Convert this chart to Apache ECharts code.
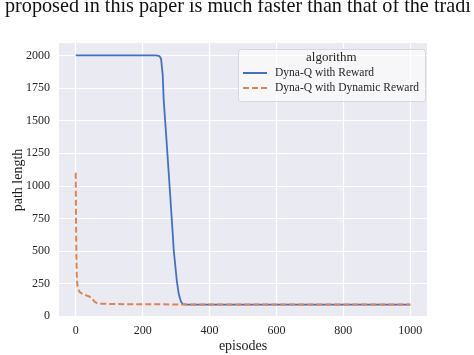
<!DOCTYPE html>
<html>
<head>
<meta charset="utf-8">
<script src="https://cdn.jsdelivr.net/npm/echarts@6/dist/echarts.min.js"></script>
<style>html,body{margin:0;padding:0;background:#fff;}#c{width:474px;height:355px;}</style>
</head>
<body>
<div id="c"></div>
<script>
// Data
const seriesNames = ['Dyna-Q with Reward', 'Dyna-Q with Dynamic Reward'];
const rewardEpisodes = [0, 100, 200, 240, 250, 255, 260, 263, 270, 280, 290, 293, 302, 308, 314, 320, 330, 400, 500, 600, 700, 800, 900, 1000];
const rewardValues   = [2000, 2000, 2000, 2000, 1995, 1975, 1850, 1655, 1400, 1020, 630, 505, 276, 170, 115, 93, 90, 90, 90, 90, 90, 90, 90, 90];
const dynamicEpisodes = [0, 1, 2, 3, 5, 8, 12, 20, 30, 40, 48, 55, 62, 75, 100, 150, 200, 300, 400, 500, 600, 700, 800, 900, 1000];
const dynamicValues   = [1100, 700, 450, 320, 240, 205, 185, 172, 162, 152, 140, 115, 102, 97, 95, 93, 92, 91, 90, 90, 90, 90, 90, 90, 90];
const xTicks = [0, 200, 400, 600, 800, 1000];
const yTicks = [0, 250, 500, 750, 1000, 1250, 1500, 1750, 2000];
const captionText = 'proposed in this paper is much faster than that of the tradi';

const zip = (xs, ys) => xs.map((x, i) => [x, ys[i]]);
const serif = '"Liberation Serif", "Times New Roman", serif';
const plain = v => String(v);

const chart = echarts.init(document.getElementById('c'), null, {renderer: 'canvas'});
chart.setOption({
  backgroundColor: '#ffffff',
  animation: false,
  textStyle: {fontFamily: serif},
  grid: {left: 59, right: 47, top: 43, bottom: 38, show: true, backgroundColor: '#eaeaf2', borderWidth: 0,
         containLabel: false, outerBoundsMode: 'none'},
  xAxis: {
    type: 'value', min: -50, max: 1050,
    name: 'episodes', nameLocation: 'middle', nameGap: 22, nameMoveOverlap: false,
    nameTextStyle: {fontFamily: serif, fontSize: 14, color: '#1a1a1a'},
    axisLine: {show: false},
    axisTick: {show: false, customValues: xTicks},
    axisLabel: {customValues: xTicks, formatter: plain, fontFamily: serif, fontSize: 12, color: '#262626', margin: 8},
    splitLine: {show: true, lineStyle: {color: '#ffffff', width: 1.2}}
  },
  yAxis: {
    type: 'value', min: -5.5, max: 2095,
    name: 'path length', nameLocation: 'middle', nameGap: 34, nameRotate: 90, nameMoveOverlap: false,
    nameTextStyle: {fontFamily: serif, fontSize: 14, color: '#1a1a1a'},
    axisLine: {show: false},
    axisTick: {show: false, customValues: yTicks},
    axisLabel: {customValues: yTicks, formatter: plain, fontFamily: serif, fontSize: 12, color: '#262626', margin: 9},
    splitLine: {show: true, lineStyle: {color: '#ffffff', width: 1.2}}
  },
  legend: {
    orient: 'vertical', left: 242, top: 67, z: 20, padding: 0,
    itemWidth: 24, itemHeight: 14, itemGap: 3,
    itemStyle: {opacity: 0},
    textStyle: {fontFamily: serif, fontSize: 11.5, color: '#262626', padding: [0, 0, 0, 3]},
    data: seriesNames
  },
  graphic: [
    {type: 'rect', left: 238, top: 49, z: 1,
     shape: {width: 187, height: 52, r: 3},
     style: {fill: 'rgba(255,255,255,0.6)', stroke: '#d6d6de', lineWidth: 1}},
    {type: 'text', left: 306, top: 51, z: 21,
     style: {text: 'algorithm', font: '13px ' + serif, fill: '#262626'}},
    {type: 'text', left: 5, top: -3, z: 21,
     style: {text: captionText, font: '20.2px ' + serif, fill: '#111111'}}
  ],
  series: [
    {name: seriesNames[0], type: 'line', data: zip(rewardEpisodes, rewardValues),
     showSymbol: false, symbol: 'none', smooth: false,
     lineStyle: {color: '#4470c4', width: 1.8}, itemStyle: {color: '#4470c4'}, z: 3},
    {name: seriesNames[1], type: 'line', data: zip(dynamicEpisodes, dynamicValues),
     showSymbol: false, symbol: 'none', smooth: false,
     lineStyle: {color: '#dd8452', width: 2, type: [6, 3]}, itemStyle: {color: '#dd8452'}, z: 4}
  ]
});
</script>
</body>
</html>
